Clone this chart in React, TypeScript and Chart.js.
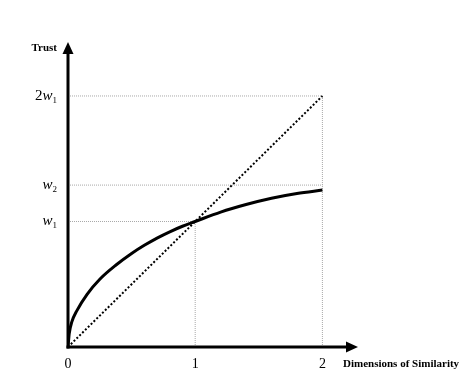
import React, { useEffect, useRef } from "react";
import { Chart, registerables } from "chart.js";

Chart.register(...registerables);

// Curve: Trust vs Dimensions of Similarity (w1 = 1)
const curveX = [0, 0.01, 0.03, 0.07, 0.15, 0.25, 0.38, 0.5, 0.6, 0.7, 0.8, 0.9, 1.0, 1.2, 1.4, 1.6, 1.8, 2.0];
const curveY = [0, 0.11, 0.2, 0.29, 0.42, 0.54, 0.655, 0.745, 0.81, 0.868, 0.918, 0.962, 1.0, 1.075, 1.135, 1.185, 1.223, 1.25];

// Diagonal dotted line
const diagX = [0, 2];
const diagY = [0, 2];

// Tick values and labels
const xTickValues = [0, 1, 2];
const xTickLabels = ["0", "1", "2"];
const yTickValues = [2, 1.29, 1];
const yTickPrefix = ["2", "", ""];
const yTickMain = ["w", "w", "w"];
const yTickSub = ["1", "2", "1"];

const xAxisTitle = "Dimensions of Similarity";
const yAxisTitle = "Trust";

const X_MAX = 2.28;
const Y_MAX = 2.43;

export default function App() {
  const ref = useRef<HTMLCanvasElement | null>(null);

  useEffect(() => {
    const canvas = ref.current;
    if (!canvas) return;

    const guideLine = (pts: { x: number; y: number }[]) => ({
      data: pts,
      showLine: true,
      borderColor: "#a8a8a8",
      borderWidth: 1,
      borderDash: [1, 1],
      pointRadius: 0,
      fill: false,
      order: 3,
    });

    const axesPlugin = {
      id: "axesPlugin",
      afterDraw(chart: any) {
        const ctx = chart.ctx as CanvasRenderingContext2D;
        const xs = chart.scales.x;
        const ys = chart.scales.y;
        const x0 = xs.getPixelForValue(0);
        const y0 = ys.getPixelForValue(0);
        const xEnd = xs.getPixelForValue(X_MAX);
        const yEnd = ys.getPixelForValue(Y_MAX);
        ctx.save();
        ctx.strokeStyle = "#000";
        ctx.fillStyle = "#000";
        ctx.lineWidth = 3;
        ctx.lineCap = "butt";
        // y axis
        ctx.beginPath();
        ctx.moveTo(x0, y0 + 1.5);
        ctx.lineTo(x0, yEnd + 8);
        ctx.stroke();
        // x axis
        ctx.beginPath();
        ctx.moveTo(x0 - 1.5, y0);
        ctx.lineTo(xEnd - 8, y0);
        ctx.stroke();
        // arrowheads
        ctx.beginPath();
        ctx.moveTo(x0, yEnd);
        ctx.lineTo(x0 - 5.5, yEnd + 12);
        ctx.lineTo(x0 + 5.5, yEnd + 12);
        ctx.closePath();
        ctx.fill();
        ctx.beginPath();
        ctx.moveTo(xEnd, y0);
        ctx.lineTo(xEnd - 12, y0 - 5.5);
        ctx.lineTo(xEnd - 12, y0 + 5.5);
        ctx.closePath();
        ctx.fill();

        // x tick labels
        ctx.font = "14px 'Liberation Serif', serif";
        ctx.textAlign = "center";
        ctx.textBaseline = "middle";
        xTickValues.forEach((v, i) => {
          ctx.fillText(xTickLabels[i], xs.getPixelForValue(v), y0 + 17);
        });

        // y tick labels with subscripts
        yTickValues.forEach((v, i) => {
          const py = ys.getPixelForValue(v);
          const right = x0 - 11;
          ctx.font = "9px 'Liberation Serif', serif";
          const subW = ctx.measureText(yTickSub[i]).width;
          ctx.font = "italic 15px 'Liberation Serif', serif";
          const mainW = ctx.measureText(yTickMain[i]).width;
          ctx.font = "15px 'Liberation Serif', serif";
          const preW = ctx.measureText(yTickPrefix[i]).width;
          let cx = right - subW - mainW - preW;
          ctx.textAlign = "left";
          ctx.textBaseline = "alphabetic";
          const base = py + 4;
          ctx.font = "15px 'Liberation Serif', serif";
          ctx.fillText(yTickPrefix[i], cx, base);
          cx += preW;
          ctx.font = "italic 15px 'Liberation Serif', serif";
          ctx.fillText(yTickMain[i], cx, base);
          cx += mainW;
          ctx.font = "9px 'Liberation Serif', serif";
          ctx.fillText(yTickSub[i], cx, base + 3);
        });

        // axis titles
        ctx.font = "bold 11px 'Liberation Serif', serif";
        ctx.textBaseline = "middle";
        ctx.textAlign = "left";
        ctx.fillText(xAxisTitle, xEnd - 15, y0 + 17);
        ctx.textAlign = "right";
        ctx.fillText(yAxisTitle, x0 - 11, yEnd + 6);
        ctx.restore();
      },
    };

    const chart = new Chart(canvas, {
      type: "scatter",
      data: {
        datasets: [
          guideLine([{ x: 0, y: 2 }, { x: 2, y: 2 }]),
          guideLine([{ x: 2, y: 0 }, { x: 2, y: 2 }]),
          guideLine([{ x: 0, y: yTickValues[1] }, { x: 2, y: yTickValues[1] }]),
          guideLine([{ x: 0, y: 1 }, { x: 1, y: 1 }]),
          guideLine([{ x: 1, y: 0 }, { x: 1, y: 1 }]),
          {
            data: diagX.map((x, i) => ({ x, y: diagY[i] })),
            showLine: true,
            borderColor: "#000",
            borderWidth: 2,
            borderDash: [2, 2],
            pointRadius: 0,
            fill: false,
            order: 2,
          },
          {
            data: curveX.map((x, i) => ({ x, y: curveY[i] })),
            showLine: true,
            borderColor: "#000",
            borderWidth: 3,
            cubicInterpolationMode: "monotone",
            pointRadius: 0,
            fill: false,
            order: 1,
          },
        ] as any,
      },
      options: {
        animation: false,
        responsive: false,
        maintainAspectRatio: false,
        layout: { padding: { left: 68, right: 116, top: 42, bottom: 44 } },
        plugins: { legend: { display: false }, tooltip: { enabled: false } },
        scales: {
          x: { type: "linear", min: 0, max: X_MAX, display: false },
          y: { type: "linear", min: 0, max: Y_MAX, display: false },
        },
      },
      plugins: [axesPlugin],
    });

    return () => chart.destroy();
  }, []);

  return (
    <div style={{ position: "fixed", left: 0, top: 0, width: 474, height: 391, background: "#fff" }}>
      <canvas ref={ref} width={474} height={391} />
    </div>
  );
}
